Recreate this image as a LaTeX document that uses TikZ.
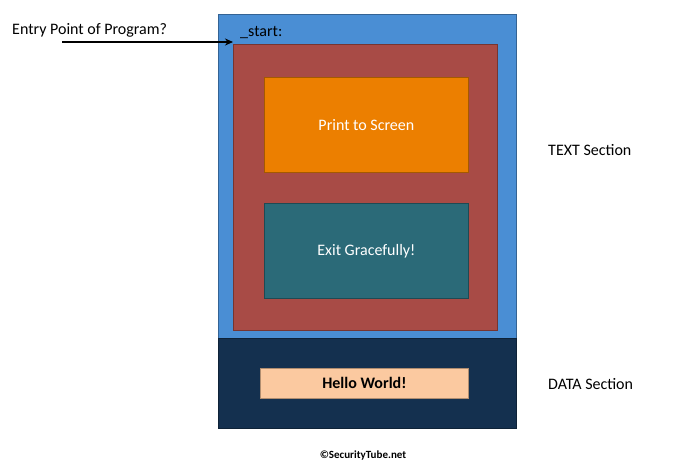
\documentclass[tikz,border=0pt]{standalone}
\usepackage{fontspec}
\setmainfont{Carlito}
\usetikzlibrary{arrows.meta}
\definecolor{secblue}{HTML}{4A8ED4}
\definecolor{secred}{HTML}{A84B46}
\definecolor{secorange}{HTML}{EC7F00}
\definecolor{secteal}{HTML}{2B6A78}
\definecolor{secnavy}{HTML}{14304F}
\definecolor{secpeach}{HTML}{FBC9A0}
\begin{document}
\begin{tikzpicture}[x=1pt,y=-1pt,
    box/.style={draw=#1!70!black, fill=#1, line width=0.8pt, inner sep=0pt},
    lbl/.style={font=\fontsize{16}{18}\selectfont, inner sep=0pt}]
  \useasboundingbox (0,0) rectangle (700,462);
  % sections
  \node[box=secblue, minimum width=298, minimum height=324, anchor=north west] (text) at (218,14) {};
  \node[box=secnavy, minimum width=298, minimum height=90, anchor=north west] (data) at (218,338) {};
  \node[box=secred, minimum width=264, minimum height=286, anchor=north west] (code) at (233,44) {};
  % blocks
  \node[box=secorange, minimum width=204, minimum height=95, anchor=north west, text=white, lbl] (print) at (264,77) {Print to Screen};
  \node[box=secteal, minimum width=204, minimum height=95, anchor=north west, text=white, lbl] (exit) at (264,203) {Exit Gracefully!};
  \node[box=secpeach, minimum width=208, minimum height=30, anchor=north west, lbl, font=\fontsize{16}{18}\selectfont\bfseries] (hello) at (260,368) {Hello World!};
  % labels
  \node[lbl, anchor=west] (entry) at (12,30) {Entry Point of Program?};
  \node[lbl, anchor=west] (start) at (240,33) {\_start:};
  \node[lbl, anchor=west] (textlbl) at (548,150) {TEXT Section};
  \node[lbl, anchor=west] (datalbl) at (548,384) {DATA Section};
  \node[inner sep=0pt, font=\fontsize{11}{13}\selectfont\bfseries] (copy) at (363,456) {©SecurityTube.net};
  \coordinate (tail) at (62,42);
  \coordinate (tip) at (233,42);
  \draw[line width=1.6pt, -{Stealth[length=8pt,width=7pt]}] (tail) -- (tip);
\end{tikzpicture}
\end{document}
